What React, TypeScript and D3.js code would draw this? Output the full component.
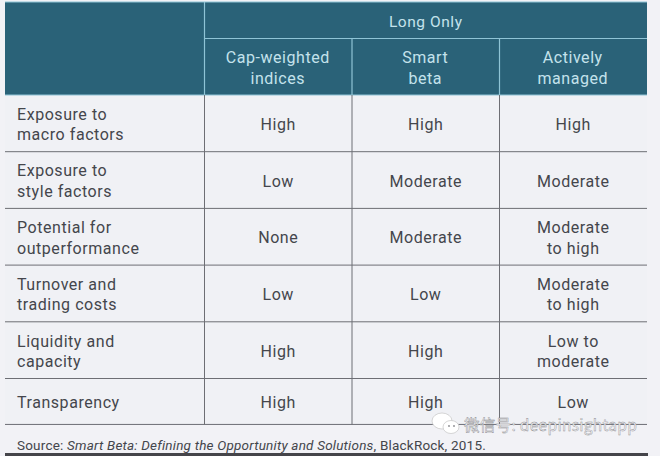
import React from "react";
import * as d3 from "d3";

const groupTitle = "Long Only";
const columns = ["Cap-weighted\nindices", "Smart\nbeta", "Actively\nmanaged"];
const rowLabels = [
  "Exposure to\nmacro factors",
  "Exposure to\nstyle factors",
  "Potential for\noutperformance",
  "Turnover and\ntrading costs",
  "Liquidity and\ncapacity",
  "Transparency",
];
const capWeighted = ["High", "Low", "None", "Low", "High", "High"];
const smartBeta = ["High", "Moderate", "Moderate", "Low", "High", "High"];
const activelyManaged = ["High", "Moderate", "Moderate\nto high", "Moderate\nto high", "Low to\nmoderate", "Low"];
const rowUnits = [0, 1, 2, 3, 4, 5, 5.81];

const FONT = "Roboto, sans-serif";
const headerBg = "#2a6278";
const headerLine = "#8fc4d6";
const headerText = "#c4e2ec";
const bodyText = "#44464c";
const rule = "#6d6e74";

function Multi({ x, y, text, fill, anchor = "middle", size = 16, lh = 20.5 }: any) {
  const lines = text.split("\n");
  const start = y - ((lines.length - 1) * lh) / 2;
  return (
    <text textAnchor={anchor} fontFamily={FONT} fontSize={size} fill={fill} letterSpacing={0.55}>
      {lines.map((l: string, i: number) => (
        <tspan key={i} x={x} y={start + i * lh + size * 0.35}>{l}</tspan>
      ))}
    </text>
  );
}

export default function App() {
  const left = 5, right = 647, colStart = 204.5, top = 2, mid = 38.5, head = 95;
  const x = d3.scaleBand<number>().domain([0, 1, 2]).range([colStart, right]).paddingInner(0).paddingOuter(0);
  const y = d3.scaleLinear().domain([0, 5]).range([head, 378.5]);
  const series = [capWeighted, smartBeta, activelyManaged];
  const bw = x.bandwidth();
  const lines = rowUnits.map((u) => y(u));
  return (
    <svg width={660} height={456} viewBox="0 0 660 456" style={{ position: "fixed", left: 0, top: 0, display: "block" }}>
      <rect width={660} height={456} fill="#f2f2f6" />
      <rect x={left} y={95} width={right - left} height={329} fill="#f0f1f5" />
      <rect x={left} y={top} width={right - left} height={head - top} fill={headerBg} />
      <line x1={left} x2={right} y1={2} y2={2} stroke={headerLine} strokeWidth={1} />
      <line x1={left} x2={right} y1={head} y2={head} stroke={headerLine} strokeWidth={1.2} />
      <line x1={colStart} x2={right} y1={mid} y2={mid} stroke={headerLine} strokeWidth={1.2} />
      <line x1={colStart} x2={colStart} y1={top} y2={head} stroke={headerLine} strokeWidth={1.2} />
      {[1, 2].map((i) => (
        <line key={i} x1={x(i)} x2={x(i)} y1={mid} y2={head} stroke={headerLine} strokeWidth={1.2} />
      ))}
      <Multi x={colStart + (right - colStart) / 2} y={21.5} text={groupTitle} fill={headerText} size={15.5} />
      {columns.map((c, i) => (
        <Multi key={c} x={x(i)! + bw / 2 - 0.5} y={68} text={c} fill={headerText} />
      ))}
      {lines.slice(1).map((ly, i) => (
        <line key={i} x1={left} x2={right} y1={ly} y2={ly} stroke={rule} strokeWidth={1} />
      ))}
      {[0, 1, 2].map((i) => (
        <line key={i} x1={x(i)} x2={x(i)} y1={head} y2={lines[6]} stroke={rule} strokeWidth={1} />
      ))}
      {rowLabels.map((r, j) => {
        const cy = (lines[j] + lines[j + 1]) / 2 + 1;
        return (
          <g key={r}>
            <Multi x={17} y={cy} text={r} fill={bodyText} anchor="start" />
            {series.map((s, i) => (
              <Multi key={i} x={x(i)! + bw / 2} y={cy} text={s[j]} fill={bodyText} />
            ))}
          </g>
        );
      })}
      <text x={17} y={450} fontFamily={FONT} fontSize={13.5} fill={bodyText} letterSpacing={0.2}>
        Source: <tspan fontStyle="italic">Smart Beta: Defining the Opportunity and Solutions</tspan>, BlackRock, 2015.
      </text>
      <rect x={5} y={453} width={643} height={3} fill="#45454a" />
      <g>
        <ellipse cx={442} cy={421} rx={10} ry={8} fill="#ffffff" stroke="#c4c4c4" strokeWidth={0.7} />
        <ellipse cx={451} cy={427} rx={8} ry={6.5} fill="#ffffff" stroke="#c4c4c4" strokeWidth={0.7} />
        <circle cx={449} cy={426} r={0.9} fill="#8a8a8e" />
        <circle cx={454} cy={426} r={0.9} fill="#8a8a8e" />
        <text x={464} y={431} fontFamily="'Noto Sans CJK SC', sans-serif" fontSize={15.5} fill="#f6f6f8" stroke="#8a8a8e" strokeWidth={0.4} letterSpacing={0.3}>
          微信号: deepinsightapp
        </text>
      </g>
    </svg>
  );
}
